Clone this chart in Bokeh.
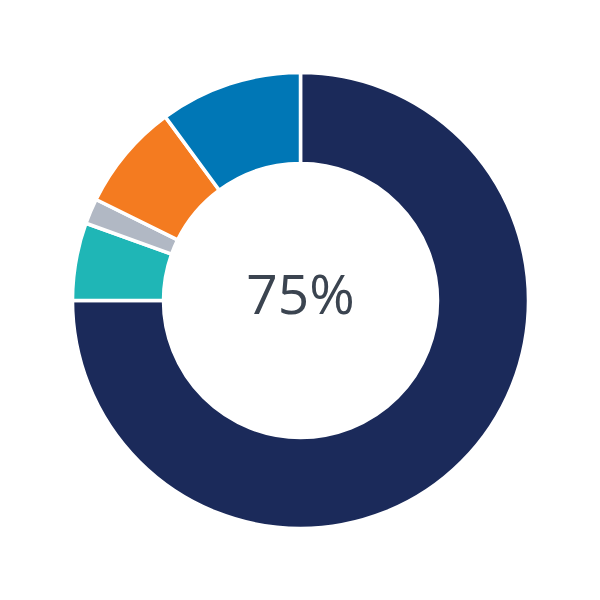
import math
from bokeh.plotting import figure
from bokeh.models import ColumnDataSource, Range1d
from bokeh.core.properties import value
from bokeh.embed import file_html
from bokeh.resources import INLINE

# Data (clockwise from 12 o'clock)
categories = ["Navy", "Teal", "Gray", "Orange", "Blue"]
values = [75.0, 5.5, 1.8, 7.6, 10.1]
colors = ["#1b2a5a", "#1fb6b6", "#b1b8c4", "#f47b20", "#0077b6"]
center_label = "75%"

total = sum(values)
starts, ends = [], []
a = math.pi / 2
for v in values:
    starts.append(a)
    a -= v / total * 2 * math.pi
    ends.append(a)

src = ColumnDataSource(dict(cat=categories, val=values, color=colors, start=starts, end=ends))

W = 584
S = W / 2  # px per data unit
p = figure(width=W, height=W, output_backend="svg", toolbar_location=None,
           x_range=Range1d(-300 / S, (W - 300) / S),
           y_range=Range1d(-(W - 300) / S, 300 / S), min_border=0)
p.axis.visible = False
p.grid.visible = False
p.outline_line_color = None
p.background_fill_color = "white"
p.border_fill_color = "white"

R_out = 228 / S
R_in = 137 / S
p.annular_wedge(x=0, y=0, inner_radius=R_in, outer_radius=R_out,
                start_angle="start", end_angle="end", direction="clock",
                fill_color="color", line_color="white", line_width=3.5, source=src)

p.text(x=[0], y=[0], text=[center_label], text_align="center", text_baseline="middle",
       y_offset=-8, x_offset=0,
       text_font=value("Open Sans"), text_font_size="55px", text_color="#3b4450")

open("out.html", "w").write(file_html(p, INLINE))
